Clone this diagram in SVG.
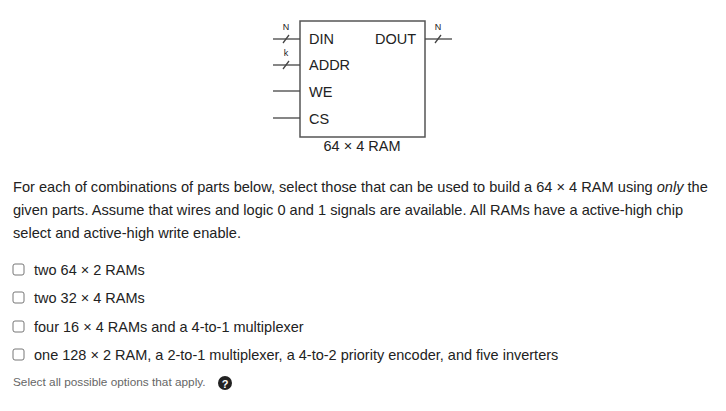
<svg xmlns="http://www.w3.org/2000/svg" width="726" height="411" viewBox="0 0 726 411">
<style>
text{font-family:"Liberation Sans",Arial,sans-serif;fill:#222}
.w{stroke:#444;stroke-width:1.3;fill:none}
.p{font-size:14.5px}
.q{font-size:14.6px}
.s{font-size:9px;text-anchor:middle}
.cb{fill:#fff;stroke:#777;stroke-width:1}
</style>
<rect width="726" height="411" fill="#fff"/>
<g id="ram">
<rect x="300" y="21" width="125" height="116" fill="#fff" stroke="#555" stroke-width="1.5"/>
<text x="309" y="44" class="p">DIN</text>
<text x="375" y="44" class="p">DOUT</text>
<text x="309" y="70" class="p">ADDR</text>
<text x="309" y="97" class="p">WE</text>
<text x="309" y="124" class="p">CS</text>
<text x="362" y="151" class="p" text-anchor="middle">64 × 4 RAM</text>
</g>
<g id="connectors">
<line class="w" x1="273" y1="39" x2="300" y2="39"/>
<line class="w" x1="283" y1="43" x2="289" y2="35"/>
<text x="286" y="30" class="s">N</text>
<line class="w" x1="273" y1="65" x2="300" y2="65"/>
<line class="w" x1="283" y1="69" x2="289" y2="61"/>
<text x="286" y="56" class="s">k</text>
<line class="w" x1="273" y1="91" x2="300" y2="91"/>
<line class="w" x1="273" y1="118" x2="300" y2="118"/>
<line class="w" x1="425" y1="39" x2="452" y2="39"/>
<line class="w" x1="435" y1="43" x2="441" y2="35"/>
<text x="438" y="30" class="s">N</text>
</g>
<g id="question">
<text x="13" y="192" class="q">For each of combinations of parts below, select those that can be used to build a 64 × 4 RAM using <tspan font-style="italic">only</tspan> the</text>
<text x="13" y="215" class="q">given parts. Assume that wires and logic 0 and 1 signals are available. All RAMs have a active-high chip</text>
<text x="13" y="238" class="q">select and active-high write enable.</text>
</g>
<g id="options">
<rect x="13" y="264" width="11" height="11" rx="2" class="cb"/>
<text x="34" y="275" class="p">two 64 × 2 RAMs</text>
<rect x="13" y="292" width="11" height="11" rx="2" class="cb"/>
<text x="34" y="303" class="p">two 32 × 4 RAMs</text>
<rect x="13" y="321" width="11" height="11" rx="2" class="cb"/>
<text x="34" y="332" class="p">four 16 × 4 RAMs and a 4-to-1 multiplexer</text>
<rect x="13" y="349" width="11" height="11" rx="2" class="cb"/>
<text x="34" y="360" class="p">one 128 × 2 RAM, a 2-to-1 multiplexer, a 4-to-2 priority encoder, and five inverters</text>
<text x="13" y="386" font-size="11.8" style="fill:#666">Select all possible options that apply.</text>
<circle cx="225" cy="383" r="7" fill="#222"/>
<text x="225" y="387.5" font-size="11" font-weight="bold" text-anchor="middle" style="fill:#fff">?</text>
</g>
</svg>
